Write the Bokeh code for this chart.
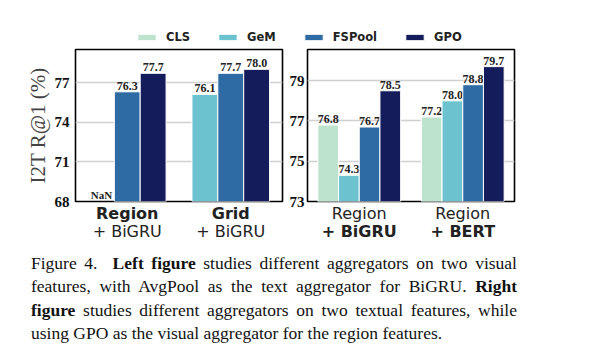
import math
from bokeh.plotting import figure
from bokeh.models import (ColumnDataSource, FactorRange, Range1d, FixedTicker, CategoricalAxis,
                          Legend, LegendItem, Div, CustomJSTickFormatter)
from bokeh.transform import dodge
from bokeh.layouts import row, column
from bokeh.core.properties import value
from bokeh.embed import file_html
from bokeh.resources import INLINE

# ---------------- data ----------------
series = ["CLS", "GeM", "FSPool", "GPO"]
colors = ["#bde3cf", "#6cc3cf", "#2e6aa4", "#151c5c"]

left_cats = ["Region", "Grid"]
left_line1 = ["Region", "Grid"]
left_line2 = ["+ BiGRU", "+ BiGRU"]
left_gem = [float("nan"), 76.1]
left_fspool = [76.3, 77.7]
left_gpo = [77.7, 78.0]
left_ticks = [68, 71, 74, 77]

right_cats = ["Region + BiGRU", "Region + BERT"]
right_line1 = ["Region", "Region"]
right_line2 = ["+ BiGRU", "+ BERT"]
right_cls = [76.8, 77.2]
right_gem = [74.3, 78.0]
right_fspool = [76.7, 78.8]
right_gpo = [78.5, 79.7]
right_ticks = [73, 75, 77, 79]

y_label = "I2T R@1 (%)"
caption = ("Figure 4.&nbsp; <b>Left figure</b> studies different aggregators on two visual "
           "features, with AvgPool as the text aggregator for BiGRU. <b>Right figure</b> "
           "studies different aggregators on two textual features, while "
           "using GPO as the visual aggregator for the region features.")

SERIF = "Liberation Serif"
SANS = "DejaVu Sans"


def label_fmt(facs, labs):
    return CustomJSTickFormatter(args=dict(facs=list(facs), labs=list(labs)),
                                 code="const i = facs.indexOf(tick); return i >= 0 ? labs[i] : tick;")


def style(p, ticks, standoff):
    p.outline_line_color = "black"
    p.outline_line_width = 1.6
    p.xgrid.visible = False
    p.ygrid.grid_line_color = "#d0d0d0"
    p.ygrid.grid_line_width = 1.3
    p.yaxis.ticker = FixedTicker(ticks=ticks)
    p.yaxis.major_label_text_font = SERIF
    p.yaxis.major_label_text_font_style = "bold"
    p.yaxis.major_label_text_font_size = "15px"
    p.yaxis.major_label_text_color = "#111111"
    p.yaxis.major_tick_line_color = None
    p.yaxis.minor_tick_line_color = None
    p.yaxis.major_tick_out = 0
    p.yaxis.major_tick_in = 0
    p.yaxis.minor_tick_out = 0
    p.yaxis.axis_line_color = None
    p.yaxis.major_label_standoff = standoff
    p.xaxis.major_tick_line_color = None
    p.xaxis.major_tick_out = 0
    p.xaxis.major_tick_in = 0
    p.xaxis.axis_line_color = None
    p.xaxis.major_label_text_font = SANS
    p.xaxis.major_label_text_font_size = "16px"
    p.xaxis.major_label_text_color = "#222222"
    p.xaxis.major_label_standoff = 2


def second_axis(p, facs, labs, bold):
    ax = CategoricalAxis(formatter=label_fmt(facs, labs),
                         major_tick_line_color=None, major_tick_out=0, major_tick_in=0,
                         axis_line_color=None,
                         major_label_text_font=SANS, major_label_text_font_size="16px",
                         major_label_text_font_style="bold" if bold else "normal",
                         major_label_text_color="#222222", major_label_standoff=-4)
    p.add_layout(ax, "below")


def bars(p, cats, vals, offset, width, color):
    xs = [c for c, v in zip(cats, vals) if not math.isnan(v)]
    ys = [v for v in vals if not math.isnan(v)]
    src = ColumnDataSource(dict(x=xs, y=ys, lab=["%.1f" % v for v in ys]))
    p.vbar(x=dodge("x", offset, range=p.x_range), top="y", bottom=p.y_range.start, width=width,
           source=src, fill_color=color, line_color="white", line_width=1)
    p.text(x=dodge("x", offset, range=p.x_range), y="y", text="lab", source=src,
           text_align="center", text_baseline="bottom", y_offset=-2,
           text_font=value(SERIF), text_font_style="bold", text_font_size="12px",
           text_color="#222222")


# ---------------- legend strip ----------------
pleg = figure(width=593, height=47, x_range=Range1d(0, 1), y_range=Range1d(0, 1),
              min_border=0, output_backend="svg", toolbar_location=None)
pleg.axis.visible = False
pleg.grid.visible = False
pleg.outline_line_color = None
items = []
for name, col in zip(series, colors):
    # swatch-only renderer, placed outside the visible range
    r = pleg.vbar(x=[-5], top=[-5], bottom=[-6], width=0.1, fill_color=col, line_color="white")
    items.append(LegendItem(label=name, renderers=[r]))
lg = Legend(items=items, orientation="horizontal", location=(135, 0))
lg.glyph_width = 23
lg.glyph_height = 8
lg.label_standoff = 8
lg.spacing = 26
lg.padding = 0
lg.margin = 0
lg.border_line_color = None
lg.background_fill_alpha = 0
lg.label_text_font = SANS
lg.label_text_font_style = "bold"
lg.label_text_font_size = "11.5px"
lg.label_text_color = "#222222"
lg.label_height = 20
pleg.add_layout(lg, "center")

# ---------------- left chart ----------------
pl = figure(x_range=FactorRange(*left_cats), y_range=Range1d(68, 79.5),
            width=286, height=196, min_border_left=75, min_border_right=4,
            min_border_top=2, min_border_bottom=0,
            output_backend="svg", toolbar_location=None)
style(pl, left_ticks, 6)
pl.yaxis.axis_label = y_label
pl.yaxis.axis_label_text_font = SERIF
pl.yaxis.axis_label_text_font_style = "normal"
pl.yaxis.axis_label_text_font_size = "21px"
pl.yaxis.axis_label_standoff = 2
pl.xaxis.major_label_text_font_style = "bold"
pl.xaxis.formatter = label_fmt(left_cats, left_line1)
second_axis(pl, left_cats, left_line2, False)

w3 = 0.25
bars(pl, left_cats, left_gem, -w3, w3, colors[1])
bars(pl, left_cats, left_fspool, 0, w3, colors[2])
bars(pl, left_cats, left_gpo, w3, w3, colors[3])
nan_cats = [c for c, v in zip(left_cats, left_gem) if math.isnan(v)]
nan_src = ColumnDataSource(dict(x=nan_cats, y=[68] * len(nan_cats), lab=["NaN"] * len(nan_cats)))
pl.text(x=dodge("x", -w3, range=pl.x_range), y="y", text="lab", source=nan_src,
        text_align="center", text_baseline="bottom", y_offset=-1,
        text_font=value(SERIF), text_font_style="bold", text_font_size="11px", text_color="#222222")

# ---------------- right chart ----------------
pr = figure(x_range=FactorRange(*right_cats), y_range=Range1d(73, 80.55),
            width=307, height=196, min_border_left=21, min_border_right=79,
            min_border_top=2, min_border_bottom=0,
            output_backend="svg", toolbar_location=None)
style(pr, right_ticks, 3)
pr.xaxis.major_label_text_font_style = "normal"
pr.xaxis.formatter = label_fmt(right_cats, right_line1)
second_axis(pr, right_cats, right_line2, True)

w4 = 0.2
bars(pr, right_cats, right_cls, -1.5 * w4, w4, colors[0])
bars(pr, right_cats, right_gem, -0.5 * w4, w4, colors[1])
bars(pr, right_cats, right_fspool, 0.5 * w4, w4, colors[2])
bars(pr, right_cats, right_gpo, 1.5 * w4, w4, colors[3])

cap = Div(text=caption, width=486,
          styles={"font-family": SERIF, "font-size": "17.5px", "line-height": "23.3px",
                  "text-align": "justify", "color": "#111111"},
          margin=(9, 0, 0, 31))

layout = column(pleg, row(pl, pr, spacing=0), cap, spacing=0)
open("out.html", "w").write(file_html(layout, INLINE))
